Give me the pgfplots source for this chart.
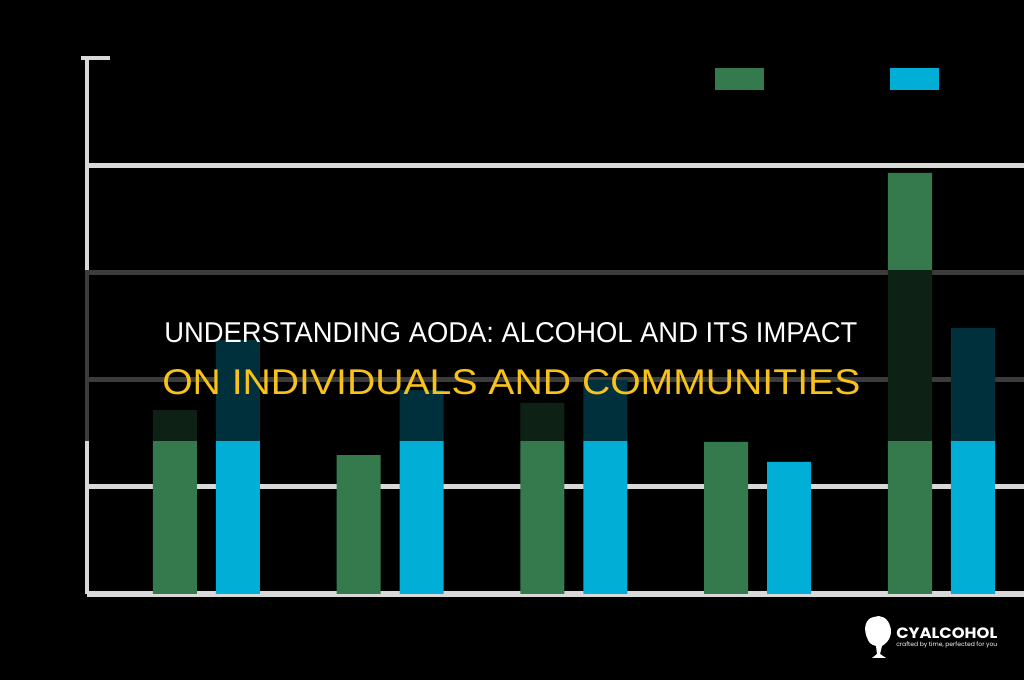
\documentclass[border=0pt]{standalone}
\usepackage{graphicx}
\usepackage{pgfplots}
\pgfplotsset{compat=1.18}
\usepackage{fontspec}
\setmainfont{Liberation Sans}
\newfontfamily\logofont{Poppins}
\definecolor{barGreen}{RGB}{53,122,77}
\definecolor{barCyan}{RGB}{0,174,214}
\definecolor{gridGray}{RGB}{217,217,217}
\definecolor{titleYellow}{RGB}{248,194,28}
\pgfdeclarelayer{bg}
\pgfsetlayers{bg,main}
\begin{document}
\begin{tikzpicture}
\begin{axis}[
  name=ax,
  scale only axis, width=702.75pt, height=402pt,
  xmin=-0.650, xmax=4.449, ymin=0, ymax=250,
  axis x line=none,
  axis y line*=left,
  y axis line style={gridGray, line width=3.4pt, -},
  ytick={0,50,100,150,200}, yticklabels={}, xtick=\empty,
  major tick length=0pt,
  ymajorgrids, grid style={gridGray, line width=3.8pt},
  clip=false,
  legend columns=2,
  legend style={draw=none, fill=none, inner sep=0pt, outer sep=0pt,
    column sep=0pt, row sep=0pt, nodes={inner sep=0pt, outer sep=0pt},
    at={(0.6702,0.9813)}, anchor=north west},
  legend image code/.code={\fill[#1] (0pt,-8.25pt) rectangle (36.75pt,8.25pt);},
]
\addplot[ybar, bar width=0.2395, bar shift=-0.1714, fill=barGreen, draw=none]
  coordinates {(0,85.8) (1,64.8) (2,89.1) (3,70.9) (4,196.4)};
\addlegendentry{\hspace*{94.5pt}}
\addplot[ybar, bar width=0.2395, bar shift=0.1714, fill=barCyan, draw=none]
  coordinates {(0,118.5) (1,95.1) (2,99.8) (3,61.6) (4,124.1)};
\addlegendentry{\hspace*{1pt}}
\draw[gridGray, line width=3.4pt] ([xshift=-4.5pt]axis cs:-0.65,250) -- ([xshift=17.25pt]axis cs:-0.65,250);
\end{axis}
\begin{scope}[shift={(ax.south west)}, x=0.75pt, y=0.75pt]
\begin{scope}[shift={(-87,-86)}]
\begin{pgfonlayer}{bg}
\fill[black] (0,0) rectangle (1024,680);
\end{pgfonlayer}
% dark overlay band behind the title
\fill[black, opacity=0.72] (0,239) rectangle (1024,410);
\node[anchor=base west, inner sep=0pt, white] at (164,337)
  {\resizebox{519.75pt}{15pt}{UNDERSTANDING AODA: ALCOHOL AND ITS IMPACT}};
\node[anchor=base west, inner sep=0pt, text=titleYellow] at (162,285)
  {\resizebox{523.5pt}{18.75pt}{ON INDIVIDUALS AND COMMUNITIES}};
% logo
\fill[white] (868,40) .. controls (862,52) and (866,62) .. (874,63)
  .. controls (880,66) and (888,62) .. (890,54)
  .. controls (893,46) and (889,38) .. (882,34) -- (880,26) -- (886,22) -- (872,22) -- (877,26) -- (876,34)
  .. controls (872,35) and (869,37) .. (868,40) -- cycle;
\node[anchor=base west, inner sep=0pt, white] at (896,41.5)
  {\resizebox{75.75pt}{8pt}{\logofont\bfseries CYALCOHOL}};
\node[anchor=base west, inner sep=0pt, white] at (896,33.5)
  {\resizebox{75.75pt}{!}{\logofont crafted by time, perfected for you}};
\pgfresetboundingbox
\path (0,0) rectangle (1024,680);
\end{scope}
\end{scope}
\end{tikzpicture}
\end{document}
